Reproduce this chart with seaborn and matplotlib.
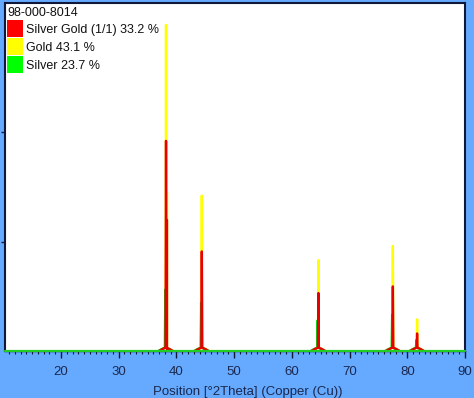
import numpy as np
import pandas as pd
import matplotlib
matplotlib.use("Agg")
import matplotlib.pyplot as plt
from matplotlib.patches import Patch
from matplotlib.ticker import MultipleLocator
import seaborn as sns

# ---- data ----
peak_positions = [38.2, 44.4, 64.6, 77.5, 81.7]
gold_heights = [2.98, 1.42, 0.83, 0.96, 0.29]
silver_gold_heights = [1.92, 0.91, 0.53, 0.59, 0.16]
silver_heights = [0.56, 0.44, 0.28, 0.33, 0.10]
# secondary (K-alpha2) sticks next to the main 38.2 peak
gold_extra_pos = [38.32]
gold_extra_h = [1.45]
silver_gold_extra_pos = [38.32]
silver_gold_extra_h = [1.20]

phase_labels = ["Silver Gold (1/1) 33.2 %", "Gold 43.1 %", "Silver 23.7 %"]
pattern_code = "98-000-8014"
x_label = "Position [°2Theta] (Copper (Cu))"
x_ticks = [20, 30, 40, 50, 60, 70, 80, 90]

phase_colors = {"Gold": "#ffff00", "Silver": "#00d000", "Silver Gold": "#e60000"}
phase_shift = {"Gold": 0.0, "Silver": -0.12, "Silver Gold": 0.0}

# peak profile style: small flat foot around every stick
foot = [(-1.2, 0.0), (-0.6, 0.018), (-0.08, 0.03), (0.0, None), (0.08, 0.03), (0.6, 0.018), (1.2, 0.0)]

rows = []
def add(phase, positions, heights, with_foot):
    for i, (p, h) in enumerate(zip(positions, heights)):
        p = p + phase_shift[phase]
        uid = f"{phase}-{with_foot}-{i}"
        shape = foot if with_foot else [(0.0, 0.0), (0.0, None)]
        for dx, yy in shape:
            rows.append({"phase": phase, "peak": uid, "pos": p + dx,
                         "intensity": h if yy is None else yy})

add("Gold", peak_positions, gold_heights, True)
add("Gold", gold_extra_pos, gold_extra_h, False)
add("Silver", peak_positions, silver_heights, True)
add("Silver Gold", peak_positions, silver_gold_heights, True)
add("Silver Gold", silver_gold_extra_pos, silver_gold_extra_h, False)
df = pd.DataFrame(rows)

sns.set_theme(style="white")
plt.rcParams["font.family"] = ["Liberation Sans", "DejaVu Sans"]

bg = "#66aaff"
fig = plt.figure(figsize=(4.74, 3.98), dpi=100, facecolor=bg)
ax = fig.add_axes([5 / 474, 1 - 351 / 398, 460 / 474, 348 / 398])
ax.set_facecolor("white")

sns.lineplot(data=df, x="pos", y="intensity", hue="phase", units="peak",
             estimator=None, sort=False, hue_order=["Gold", "Silver", "Silver Gold"],
             palette=phase_colors, legend=False, lw=1.7, ax=ax)

ax.axhline(0, color="#22cc22", lw=1.6, zorder=5, clip_on=False)

ax.set_xlim(10.3, 90)
ax.set_ylim(0, 3.18)
ax.xaxis.set_minor_locator(MultipleLocator(1))
ax.set_xticks(x_ticks)
ax.set_yticks([1, 2])
ax.set_yticklabels([])
dark = "#10183a"
ax.tick_params(axis="x", which="major", direction="out", length=5, width=1, color=dark,
               labelsize=9.5, labelcolor="#1a2850", pad=5.5, bottom=True)
ax.tick_params(axis="x", which="minor", direction="out", length=2.5, width=0.8, color=dark, bottom=True)
ax.tick_params(axis="y", which="major", direction="out", length=3, width=1, color=dark, left=True)
for s in ["left", "top", "right"]:
    ax.spines[s].set_color(dark)
    ax.spines[s].set_linewidth(1.5)
ax.spines["bottom"].set_color(dark)
ax.spines["bottom"].set_linewidth(1.0)

ax.set_xlabel(x_label, fontsize=9.5, color="#1a2850")
ax.xaxis.set_label_coords((248 - 5) / 460, -(386 - 351) / 348)
ax.set_ylabel("")

handles = [Patch(facecolor="#ff0000", edgecolor="none"),
           Patch(facecolor="#ffff00", edgecolor="none"),
           Patch(facecolor="#00ff00", edgecolor="none")]
leg = ax.legend(handles, phase_labels, title=pattern_code, loc="upper left",
                bbox_to_anchor=(0.0, 1 - 2.5 / 348),
                frameon=False, fontsize=9, title_fontsize=9,
                handlelength=1.25, handleheight=1.7, handletextpad=0.25,
                labelspacing=0.08, borderpad=0.15, borderaxespad=0.0,
                alignment="left")
for t in leg.get_texts():
    t.set_color("#111111")
leg.get_title().set_color("#111111")

fig.savefig("out.png", dpi=100, facecolor=bg)
